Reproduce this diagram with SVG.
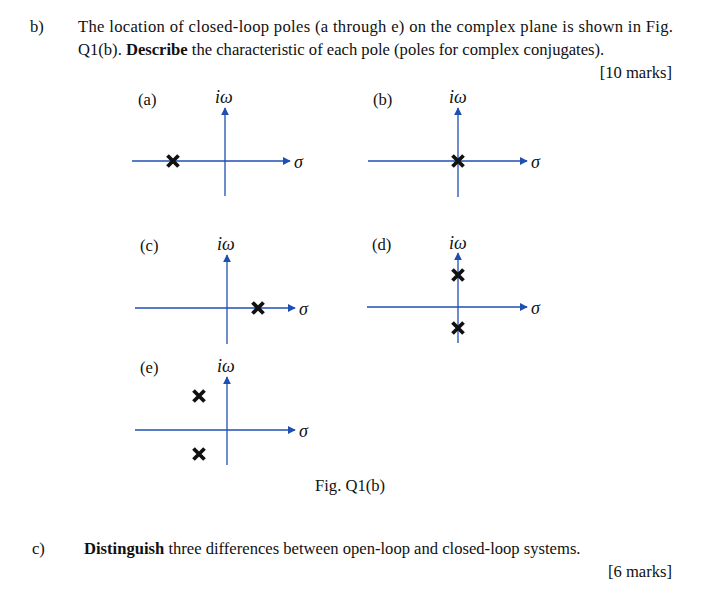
<svg xmlns="http://www.w3.org/2000/svg" width="721" height="599" viewBox="0 0 721 599">
<style>
text{font-family:"Liberation Serif",serif;font-size:16.6px;fill:#111}
.ax{stroke:#1f4fb0;stroke-width:1.3;fill:none}
.x{stroke:#111;stroke-width:3.8;stroke-linecap:butt}
.g{font-style:italic;font-size:18px}
</style>
<defs>
<marker id="ah" viewBox="0 0 10 10" refX="9" refY="5" markerWidth="8" markerHeight="8" markerUnits="userSpaceOnUse" orient="auto"><path d="M0,0L10,5L0,10z" fill="#1f4fb0"/></marker>
<g id="cr"><path class="x" d="M-5.5,-5.5L5.5,5.5M-5.5,5.5L5.5,-5.5"/></g>
</defs>
<rect width="721" height="599" fill="#fff"/>
<text x="30" y="32">b)</text>
<text x="78" y="32" textLength="595" lengthAdjust="spacing">The location of closed-loop poles (a through e) on the complex plane is shown in Fig.</text>
<text x="78" y="55">Q1(b). <tspan font-weight="bold">Describe</tspan> the characteristic of each pole (poles for complex conjugates).</text>
<text x="672" y="78" text-anchor="end">[10 marks]</text>
<g id="plot-a">
<line class="ax" x1="132" y1="161" x2="290" y2="161" marker-end="url(#ah)"/>
<line class="ax" x1="225" y1="196" x2="225" y2="108" marker-end="url(#ah)"/>
<use href="#cr" x="173" y="161"/>
<text x="138" y="105">(a)</text><text class="g" x="215" y="103">iω</text><text class="g" x="294" y="168">σ</text>
</g>
<g id="plot-b">
<line class="ax" x1="368" y1="161" x2="527" y2="161" marker-end="url(#ah)"/>
<line class="ax" x1="458" y1="197" x2="458" y2="108" marker-end="url(#ah)"/>
<use href="#cr" x="458" y="161"/>
<text x="373" y="105">(b)</text><text class="g" x="449" y="103">iω</text><text class="g" x="531" y="168">σ</text>
</g>
<g id="plot-c">
<line class="ax" x1="135" y1="308" x2="295" y2="308" marker-end="url(#ah)"/>
<line class="ax" x1="227" y1="344" x2="227" y2="255" marker-end="url(#ah)"/>
<use href="#cr" x="258" y="308"/>
<text x="140" y="251">(c)</text><text class="g" x="217" y="250">iω</text><text class="g" x="299" y="315">σ</text>
</g>
<g id="plot-d">
<line class="ax" x1="367" y1="307" x2="527" y2="307" marker-end="url(#ah)"/>
<line class="ax" x1="458" y1="343" x2="458" y2="253" marker-end="url(#ah)"/>
<use href="#cr" x="458" y="275"/><use href="#cr" x="458" y="328"/>
<text x="372" y="250">(d)</text><text class="g" x="449" y="249">iω</text><text class="g" x="531" y="314">σ</text>
</g>
<g id="plot-e">
<line class="ax" x1="135" y1="430" x2="295" y2="430" marker-end="url(#ah)"/>
<line class="ax" x1="227" y1="465" x2="227" y2="377" marker-end="url(#ah)"/>
<use href="#cr" x="199" y="396"/><use href="#cr" x="199" y="454"/>
<text x="140" y="373">(e)</text><text class="g" x="217" y="372">iω</text><text class="g" x="299" y="437">σ</text>
</g>
<text x="315" y="491">Fig. Q1(b)</text>
<text x="32" y="554">c)</text>
<text x="84" y="554"><tspan font-weight="bold">Distinguish</tspan> three differences between open-loop and closed-loop systems.</text>
<text x="672" y="577" text-anchor="end">[6 marks]</text>
</svg>
